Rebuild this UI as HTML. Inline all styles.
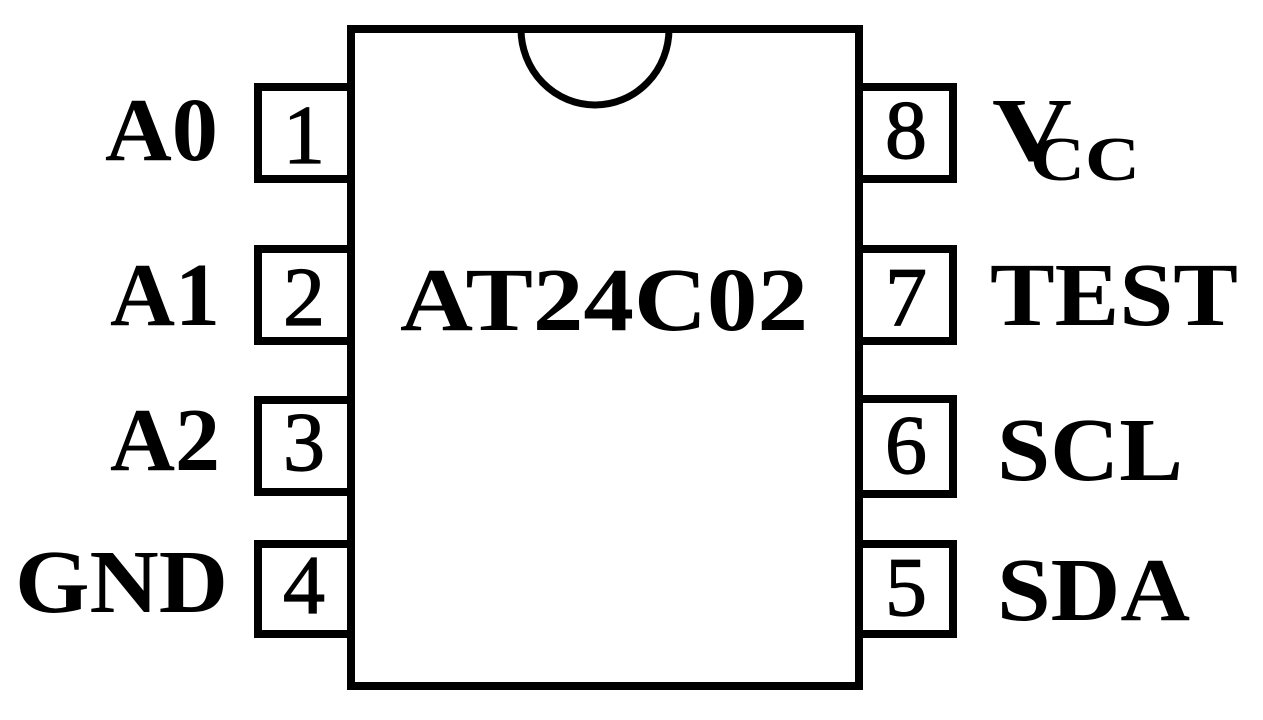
<!DOCTYPE html>
<html><head><meta charset="utf-8"><style>html,body{margin:0;padding:0;background:#fff;}svg{display:block}</style></head>
<body>
<svg width="1263" height="720" viewBox="0 0 1263 720" xmlns="http://www.w3.org/2000/svg">
<g fill="#fff" stroke="#000" stroke-width="8">
<rect x="351" y="29" width="508" height="657"/>
<rect x="258" y="87" width="93" height="92"/>
<rect x="258" y="249" width="93" height="92"/>
<rect x="258" y="400" width="93" height="92"/>
<rect x="258" y="544" width="93" height="90"/>
<rect x="859" y="87" width="94" height="92"/>
<rect x="859" y="249" width="94" height="92"/>
<rect x="859" y="399" width="94" height="95"/>
<rect x="859" y="544" width="94" height="90"/>
<path d="M521 29 A74 76 0 0 0 669 29" fill="none" stroke-width="7"/>
</g>
<g font-family="Liberation Serif, serif" font-size="84" fill="#000" stroke="#000" stroke-width="1.2" text-anchor="middle">
<text x="304" y="163">1</text>
<text x="304" y="325">2</text>
<text x="304" y="470">3</text>
<text x="304" y="613">4</text>
<text x="906" y="158">8</text>
<text x="906" y="325">7</text>
<text x="906" y="473">6</text>
<text x="906" y="615">5</text>
</g>
<g font-family="Liberation Serif, serif" font-size="90" font-weight="bold" fill="#000">
<text x="400" y="330" textLength="408" lengthAdjust="spacingAndGlyphs">AT24C02</text>
<text x="105" y="160" textLength="113" lengthAdjust="spacingAndGlyphs">A0</text>
<text x="110" y="325" textLength="110" lengthAdjust="spacingAndGlyphs">A1</text>
<text x="110" y="470" textLength="110" lengthAdjust="spacingAndGlyphs">A2</text>
<text x="15" y="612" textLength="213" lengthAdjust="spacingAndGlyphs">GND</text>
<text x="990" y="325" textLength="248" lengthAdjust="spacingAndGlyphs">TEST</text>
<text x="997" y="480" textLength="186" lengthAdjust="spacingAndGlyphs">SCL</text>
<text x="997" y="620" textLength="193" lengthAdjust="spacingAndGlyphs">SDA</text>
<text x="992" y="160" textLength="80" lengthAdjust="spacingAndGlyphs">V</text>
<text x="1030" y="180" font-size="62" textLength="110" lengthAdjust="spacingAndGlyphs">CC</text>
</g>
</svg>
</body></html>
